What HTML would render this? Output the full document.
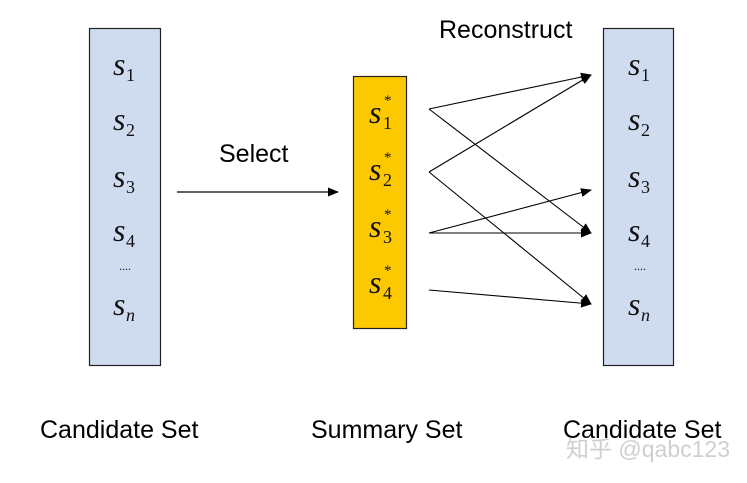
<!DOCTYPE html>
<html><head><meta charset="utf-8"><style>
html,body{margin:0;padding:0;background:#fff;}
svg{display:block;}
.s{font-family:"Liberation Serif",serif;font-style:italic;font-size:32px;fill:#111;}
.sub{font-family:"Liberation Serif",serif;font-size:18px;fill:#111;}
.subi{font-family:"Liberation Serif",serif;font-style:italic;font-size:18px;fill:#111;}
.ast{font-family:"Liberation Serif",serif;font-size:15px;fill:#111;}
.lab{font-family:"Liberation Sans",sans-serif;font-size:25px;fill:#000;}
.dots{font-family:"Liberation Serif",serif;font-size:12px;fill:#111;}
</style></head><body>
<svg width="747" height="483" viewBox="0 0 747 483" xmlns="http://www.w3.org/2000/svg">
<defs><marker id="a" markerWidth="11" markerHeight="9" refX="10" refY="4.5" orient="auto" markerUnits="userSpaceOnUse"><path d="M0,0 L11,4.5 L0,9 z" fill="#000"/></marker></defs>
<rect x="89.5" y="28.5" width="71" height="337" fill="#cfdcf0" stroke="#222" stroke-width="1.2"/>
<rect x="603.5" y="28.5" width="70" height="337" fill="#cfdcf0" stroke="#222" stroke-width="1.2"/>
<rect x="353.5" y="76.5" width="53" height="252" fill="#fcc800" stroke="#222" stroke-width="1.2"/>
<g>
<text class="s" x="113" y="75">s</text><text class="sub" x="126" y="81">1</text>
<text class="s" x="113" y="130">s</text><text class="sub" x="126" y="136">2</text>
<text class="s" x="113" y="187">s</text><text class="sub" x="126" y="193">3</text>
<text class="s" x="113" y="241">s</text><text class="sub" x="126" y="247">4</text>
<text class="dots" x="119" y="270">....</text>
<text class="s" x="113" y="315">s</text><text class="subi" x="126" y="321">n</text>
</g>
<g>
<text class="s" x="628" y="75">s</text><text class="sub" x="641" y="81">1</text>
<text class="s" x="628" y="130">s</text><text class="sub" x="641" y="136">2</text>
<text class="s" x="628" y="187">s</text><text class="sub" x="641" y="193">3</text>
<text class="s" x="628" y="241">s</text><text class="sub" x="641" y="247">4</text>
<text class="dots" x="634" y="270">....</text>
<text class="s" x="628" y="315">s</text><text class="subi" x="641" y="321">n</text>
</g>
<g>
<text class="s" x="369" y="123">s</text><text class="sub" x="383" y="129">1</text><text class="ast" x="384" y="105">*</text>
<text class="s" x="369" y="180">s</text><text class="sub" x="383" y="186">2</text><text class="ast" x="384" y="162">*</text>
<text class="s" x="369" y="237">s</text><text class="sub" x="383" y="243">3</text><text class="ast" x="384" y="219">*</text>
<text class="s" x="369" y="293">s</text><text class="sub" x="383" y="299">4</text><text class="ast" x="384" y="275">*</text>
</g>
<line x1="177" y1="192" x2="338" y2="192" stroke="#000" stroke-width="1.2" marker-end="url(#a)"/>
<g stroke="#000" stroke-width="1.1" marker-end="url(#a)">
<line x1="429" y1="109" x2="591" y2="75"/>
<line x1="429" y1="109" x2="591" y2="233"/>
<line x1="429" y1="172" x2="591" y2="75"/>
<line x1="429" y1="172" x2="591" y2="304"/>
<line x1="429" y1="233" x2="591" y2="190"/>
<line x1="429" y1="233" x2="591" y2="233"/>
<line x1="429" y1="290" x2="591" y2="304"/>
</g>
<text class="lab" x="219" y="162">Select</text>
<text class="lab" x="439" y="38">Reconstruct</text>
<text class="lab" x="40" y="438">Candidate Set</text>
<text class="lab" x="311" y="438">Summary Set</text>
<text class="lab" x="563" y="438">Candidate Set</text>
<text x="566" y="457" font-family="Liberation Sans,'Noto Sans CJK SC',sans-serif" font-size="23" fill="#cfcfcf">知乎 @qabc123</text>
</svg>
</body></html>
